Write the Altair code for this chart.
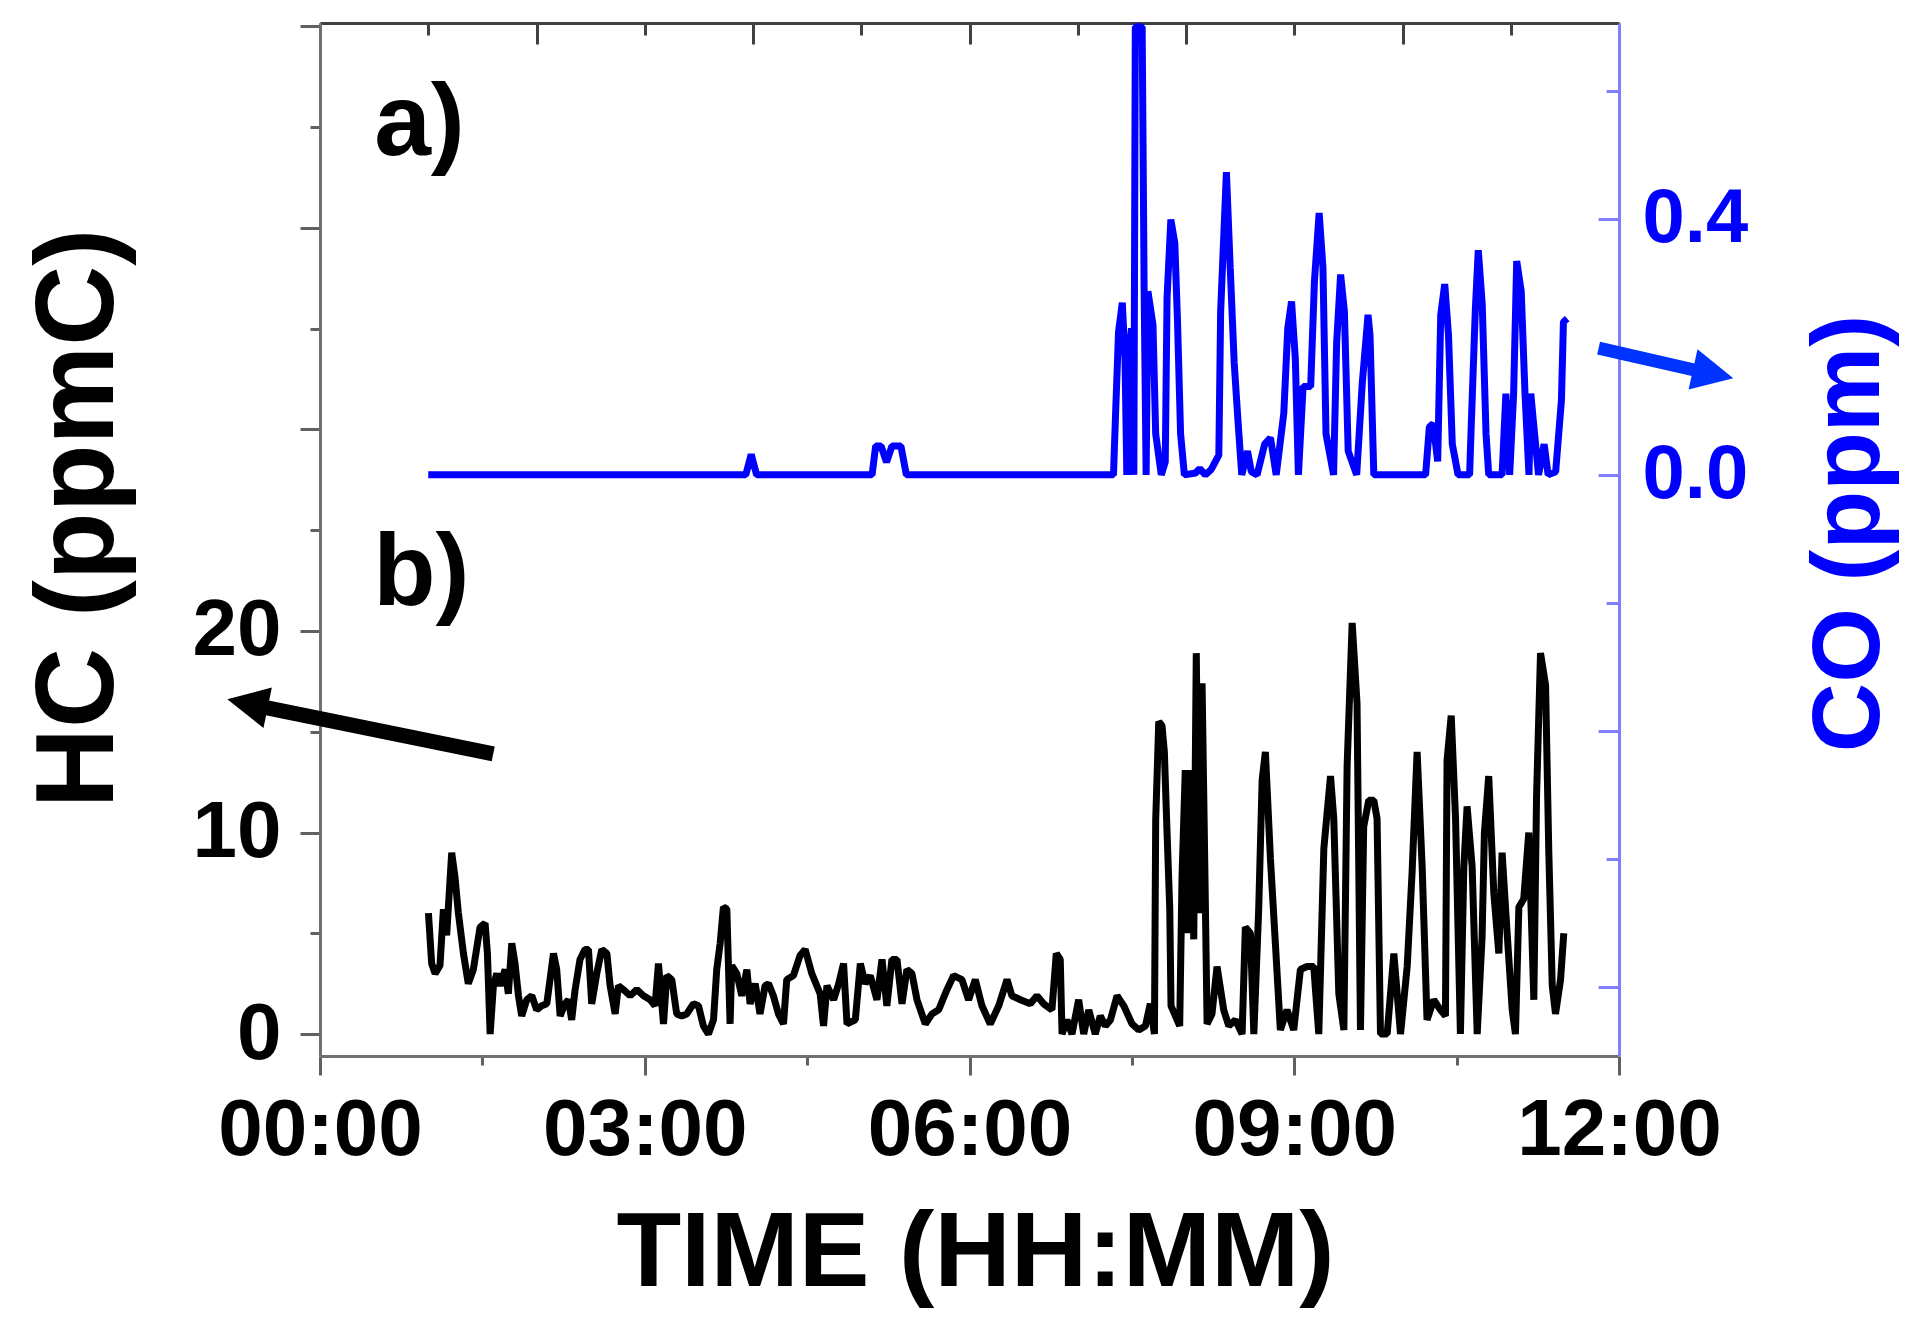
import altair as alt
import pandas as pd

# ---------------- data (minutes after 00:00) ----------------
hc_minutes = [60.1, 61.9, 63.8, 66.5, 68.4, 70.2, 73.0, 74.8, 76.7, 79.5, 82.2, 85.0, 88.7, 91.5, 92.8,
              94.3, 96.1, 98.0, 99.8, 102.6, 104.4, 106.3, 108.1, 110.0, 111.8, 114.6, 117.4, 120.1,
              122.9, 125.7, 127.5, 129.4, 131.2, 133.1, 135.8, 137.7, 139.5, 141.4, 144.1, 146.9, 148.8,
              150.6, 153.4, 156.2, 159.0, 160.8, 163.6, 165.4, 168.2, 171.9, 175.6, 179.3, 183.0, 185.7,
              187.6, 190.4, 192.2, 195.0, 197.7, 200.5, 203.3, 207.0, 209.8, 212.5, 215.3, 218.1, 219.9,
              221.8, 223.6, 225.5, 227.3, 228.2, 231.0, 233.8, 236.6, 238.4, 241.2, 243.9, 246.7, 248.6,
              251.3, 254.1, 256.9, 258.7, 262.4, 266.1, 268.9, 272.6, 277.2,
              279.1, 281.0, 284.7, 287.5, 290.2, 292.1, 296.7, 299.5, 302.2, 305.0, 308.7, 311.5, 314.2,
              317.0, 319.8, 322.6, 325.3, 328.1, 330.9, 335.5, 339.2, 342.9, 347.5, 351.2, 355.8, 359.5,
              363.2, 366.9, 371.5, 376.2, 380.8, 383.5, 388.2, 393.7, 397.4, 401.1, 405.7, 408.1, 410.3,
              411.3, 414.0, 416.8, 420.5, 423.3, 426.1, 429.7, 432.5, 435.3, 438.1, 441.8, 445.5, 450.1,
              453.8, 457.5, 460.2, 462.5, 463.2, 464.9, 466.7, 468.0, 469.5, 471.0, 471.7, 474.1, 476.5,
              477.8, 479.6, 480.9, 482.4, 484.3, 485.7, 487.2, 488.9, 490.2, 491.7, 494.4, 497.2,
              500.9, 503.7, 507.4, 511.1, 512.9, 515.7, 517.6, 520.3, 522.2, 524.0, 526.8, 529.6, 532.3,
              536.0, 539.7, 543.4, 547.1, 550.8, 553.6, 556.4, 560.1, 561.9, 564.7, 567.5, 569.3, 572.1,
              574.8, 576.7, 578.5, 581.3, 584.1, 585.9, 587.8, 591.5, 595.2, 598.9, 602.6, 605.3, 608.1,
              610.9, 613.6, 617.3, 621.0, 623.8, 624.7, 627.0, 629.4, 632.1, 634.0, 635.8, 638.6, 641.4,
              644.1, 645.4, 647.8, 650.6, 653.4, 655.2, 658.0, 660.8, 662.6, 664.5, 667.2, 670.0, 672.8,
              674.3, 676.5, 679.3, 681.1, 683.0, 684.8, 687.6, 689.4]
hc_values = [6.0, 3.5, 3.0, 3.4, 6.2, 4.9, 9.0, 7.8, 6.0, 4.0, 2.5, 3.2, 5.3, 5.5, 4.0,
             0.0, 2.4, 3.0, 2.4, 3.2, 2.0, 4.5, 3.5, 1.9, 0.9, 1.7, 1.9, 1.2,
             1.4, 1.5, 2.7, 4.0, 3.2, 0.9, 1.5, 1.7, 0.7, 2.2, 3.7, 4.2, 4.2,
             1.5, 3.0, 4.2, 4.0, 2.4, 1.0, 2.4, 2.2, 1.9, 2.2, 1.9, 1.7, 1.4,
             3.5, 0.5, 2.9, 2.7, 1.0, 0.9, 1.0, 1.5, 1.4, 0.4, 0.0, 0.7, 3.2,
             4.5, 6.3, 6.2, 0.5, 3.4, 3.0, 1.9, 3.2, 1.5, 2.5, 1.0, 2.4, 2.5,
             1.9, 1.0, 0.5, 2.7, 2.9, 3.9, 4.2, 3.0, 2.0,
             0.4, 2.4, 1.7, 2.5, 3.5, 0.5, 0.7, 3.5, 2.5, 2.9, 1.7, 3.7, 1.4,
             3.7, 3.7, 1.5, 3.2, 3.0, 1.7, 0.5, 1.0, 1.2, 2.2, 2.9, 2.7, 1.7,
             2.7, 1.4, 0.5, 1.4, 2.7, 1.9, 1.7, 1.5, 1.9, 1.5, 1.2, 4.0, 3.7,
             0.0, 0.7, 0.0, 1.7, 0.0, 1.2, 0.0, 0.9, 0.4, 0.7, 1.9, 1.4, 0.5,
             0.2, 0.4, 1.5, 0.0, 10.6, 15.5, 15.3, 14.0, 10.0, 6.2, 1.4, 0.9, 0.4,
             7.8, 13.1, 5.0, 13.1, 4.7, 18.9, 6.0, 17.4, 9.7, 0.5, 1.0, 3.35,
             1.2, 0.4, 0.7, 0.0, 5.3, 5.0, 0.0, 6.2, 12.6, 14.0, 8.7, 4.4, 0.2,
             1.2, 0.2, 3.2, 3.35, 3.35, 0.0, 9.2, 12.8, 10.7, 2.0, 0.2, 13.3, 20.4,
             16.4, 0.2, 10.3, 11.6, 11.6, 10.7, 0.0, 0.0, 4.0, 0.0, 3.35, 8.0, 14.0,
             8.3, 0.7, 1.7, 1.2, 0.9, 13.6, 15.8, 10.7, 0.0, 8.3, 11.3, 8.3, 0.0,
             4.8, 10.0, 12.8, 7.0, 4.0, 9.0, 5.0, 1.2, 0.0, 6.3, 6.7, 10.0, 1.7,
             11.8, 18.9, 17.3, 9.0, 2.4, 1.0, 2.7, 5.0]

co_minutes = [60, 236, 239, 242, 306, 308, 311, 314, 317, 322, 325,
              439.8, 440.9, 442.6, 444.7, 446.2, 447.2, 448.3, 449.8, 451.1, 451.9, 455.7, 456.8,
              457.9, 458.9, 461.7, 463.2, 466.3, 468.5, 469.5, 471.6, 473.8, 475.3, 477.0, 479.1,
              485.4, 487.6, 490.7, 493.9, 498.2, 499.2, 502.4, 504.5, 506.7, 508.8, 510.9, 514.1,
              516.2, 519.4, 523.6, 526.8, 530.0, 534.2, 536.4, 538.5, 540.6, 542.3, 544.9, 549.1,
              551.2, 553.8, 555.9, 557.6, 561.8, 563.5, 565.7, 567.8, 569.9, 574.6, 577.7, 580.9,
              582.0, 584.1, 612.8, 614.9, 617.0, 619.5, 621.2, 623.4, 625.5, 627.6, 630.8, 637.2,
              638.2, 640.4, 642.0, 644.2, 646.3, 647.8, 655.2, 657.3, 659.4, 661.6, 663.3, 665.8,
              667.9, 670.1, 671.1, 673.2, 675.4, 678.5, 680.7, 684.9, 688.1, 689.2, 691.3]
co_values = [0, 0, 0.032, 0, 0, 0.045, 0.045, 0.02, 0.045, 0.045, 0,
             0, 0.09, 0.223, 0.269, 0.181, 0, 0.181, 0.229, 0, 0.70, 0.70, 0.287,
             0, 0.287, 0.234, 0.064, 0, 0.02, 0.277, 0.399, 0.362, 0.239, 0.064, 0,
             0.003, 0.01, 0, 0.008, 0.031, 0.255, 0.473, 0.324, 0.176, 0.085, 0, 0.037,
             0.005, 0, 0.048, 0.058, 0, 0.096, 0.229, 0.271, 0.181, 0, 0.138, 0.138,
             0.303, 0.409, 0.324, 0.064, 0, 0.207, 0.313, 0.255, 0.037, 0, 0.143, 0.250,
             0.218, 0, 0, 0.075, 0.080, 0.021, 0.250, 0.298, 0.218, 0.048, 0, 0,
             0.085, 0.260, 0.351, 0.266, 0.064, 0, 0, 0.127, 0, 0.127, 0.334, 0.287,
             0.127, 0, 0.127, 0.064, 0, 0.048, 0, 0.005, 0.117, 0.239, 0.244]

x_ticks_major = [0, 180, 360, 540, 720]
x_ticks_minor = [90, 270, 450, 630]
top_ticks_major = [0, 120, 240, 360, 480, 600, 720]
top_ticks_minor = [60, 180, 300, 420, 540, 660]
hc_ticks_major = [0, 10, 20, 30, 40, 50]
hc_ticks_minor = [5, 15, 25, 35, 45]
co_ticks_major = [-0.8, -0.4, 0.0, 0.4]
co_ticks_minor = [-0.6, -0.2, 0.2, 0.6]

panel_labels = ["a)", "b)"]
panel_label_minutes = [30.0, 29.5]
panel_label_hc = [43.6, 21.3]

# arrows (data coordinates): tail -> base of head, and head centre
hc_arrow_minutes = [96.0, -29.9]
hc_arrow_values = [13.9, 16.2]
hc_head_minute = [-40.2]
hc_head_value = [16.4]
co_arrow_minutes = [708.7, 763.0]
co_arrow_values = [0.198, 0.163]
co_head_minute = [772.2]
co_head_value = [0.158]

X_DOMAIN = [0, 720]
HC_DOMAIN = [-1.09, 50.17]
CO_DOMAIN = [-0.908, 0.706]
FONT = "Liberation Sans"
W, H = 1299, 1033
BLUE = "#0000ff"
AXBLUE = "#8080ff"
GREY = "#707070"
DARK = "#404040"

hc_df = pd.DataFrame({"m": hc_minutes, "v": hc_values})
co_df = pd.DataFrame({"m": co_minutes, "v": co_values})
dummy = pd.DataFrame({"m": [0], "v": [0]})
lab_df = pd.DataFrame({"m": panel_label_minutes, "v": panel_label_hc, "t": panel_labels})
hca_df = pd.DataFrame({"m": [hc_arrow_minutes[0]], "m2": [hc_arrow_minutes[1]],
                       "v": [hc_arrow_values[0]], "v2": [hc_arrow_values[1]]})
hch_df = pd.DataFrame({"m": hc_head_minute, "v": hc_head_value})
coa_df = pd.DataFrame({"m": [co_arrow_minutes[0]], "m2": [co_arrow_minutes[1]],
                       "v": [co_arrow_values[0]], "v2": [co_arrow_values[1]]})
coh_df = pd.DataFrame({"m": co_head_minute, "v": co_head_value})


def xs():
    return alt.Scale(domain=X_DOMAIN, nice=False, zero=False)


def hs():
    return alt.Scale(domain=HC_DOMAIN, nice=False, zero=False)


def cs():
    return alt.Scale(domain=CO_DOMAIN, nice=False, zero=False)


lab_common = dict(labelFont=FONT, labelFontWeight="bold", grid=False, labelOverlap=False, labelLimit=1000)

bottom_major = alt.Axis(orient="bottom", values=x_ticks_major, tickSize=19, tickWidth=3, tickColor="#606060",
                        domainColor=GREY, domainWidth=3,
                        labelExpr="(datum.value < 600 ? '0' : '') + floor(datum.value/60) + ':00'",
                        labelFontSize=80, labelColor="black", labelPadding=16, labelFlush=False,
                        title="TIME (HH:MM)", titleFont=FONT, titleFontSize=106, titleFontWeight="bold",
                        titleColor="black", titleX=655, titleY=197, titleAlign="center",
                        titleBaseline="middle", titleAngle=0, titleLimit=2000, **lab_common)
left_major = alt.Axis(orient="left", values=hc_ticks_major, tickSize=20, tickWidth=3, tickColor="#606060",
                      domainColor=GREY, domainWidth=3,
                      labelExpr="datum.value <= 20 ? datum.label : ''",
                      labelFontSize=80, labelColor="black", labelPadding=19,
                      title="HC (ppmC)", titleFont=FONT, titleFontSize=111, titleFontWeight="bold",
                      titleColor="black", titleX=-241, titleY=495, titleAngle=270, titleAlign="center",
                      titleBaseline="middle", titleLimit=2000, **lab_common)
right_major = alt.Axis(orient="right", values=co_ticks_major, tickSize={"expr": "-21"}, tickWidth=3,
                       tickColor=AXBLUE, domainColor=AXBLUE, domainWidth=3,
                       labelExpr="abs(datum.value) < 0.001 ? '0.0' : (abs(datum.value - 0.4) < 0.001 ? '0.4' : '')",
                       labelFontSize=76, labelColor=BLUE, labelPadding=44,
                       title="CO (ppm)", titleFont=FONT, titleFontSize=96, titleFontWeight="bold",
                       titleColor=BLUE, titleX=230, titleY=510, titleAngle=270, titleAlign="center",
                       titleBaseline="middle", titleLimit=2000, **lab_common)
bottom_minor = alt.Axis(orient="bottom", values=x_ticks_minor, tickSize=9, tickWidth=3, tickColor="#606060",
                        domain=False, labels=False, title=None, grid=False)
left_minor = alt.Axis(orient="left", values=hc_ticks_minor, tickSize=10, tickWidth=3, tickColor="#606060",
                      domain=False, labels=False, title=None, grid=False)
top_major = alt.Axis(orient="top", values=top_ticks_major, tickSize={"expr": "-21"}, tickWidth=3,
                     tickColor=DARK, domainColor=DARK, domainWidth=3, labels=False, title=None, grid=False)
top_minor = alt.Axis(orient="top", values=top_ticks_minor, tickSize={"expr": "-12"}, tickWidth=3,
                     tickColor=DARK, domain=False, labels=False, title=None, grid=False)
right_minor = alt.Axis(orient="right", values=co_ticks_minor, tickSize={"expr": "-13"}, tickWidth=3,
                       tickColor=AXBLUE, domain=False, labels=False, title=None, grid=False)

hc_line = alt.Chart(hc_df).mark_line(color="black", strokeWidth=7, strokeJoin="bevel").encode(
    x=alt.X("m:Q", scale=xs(), axis=bottom_major),
    y=alt.Y("v:Q", scale=hs(), axis=left_major),
    order="m:Q")
co_line = alt.Chart(co_df).mark_line(color=BLUE, strokeWidth=7, strokeJoin="bevel").encode(
    x=alt.X("m:Q", scale=xs(), axis=None),
    y=alt.Y("v:Q", scale=cs(), axis=right_major),
    order="m:Q")
minor_a = alt.Chart(dummy).mark_point(opacity=0).encode(
    x=alt.X("m:Q", scale=xs(), axis=bottom_minor),
    y=alt.Y("v:Q", scale=hs(), axis=left_minor))
minor_b = alt.Chart(dummy).mark_point(opacity=0).encode(
    x=alt.X("m:Q", scale=xs(), axis=top_major),
    y=alt.Y("v:Q", scale=cs(), axis=right_minor))
minor_c = alt.Chart(dummy).mark_point(opacity=0).encode(
    x=alt.X("m:Q", scale=xs(), axis=top_minor))

labels = alt.Chart(lab_df).mark_text(align="left", baseline="alphabetic", font=FONT, fontWeight="bold",
                                     fontSize=102, color="black").encode(
    x=alt.X("m:Q", scale=xs(), axis=None),
    y=alt.Y("v:Q", scale=hs(), axis=None),
    text="t:N")

head_shape = "M0,-1L1,1L-1,1Z"
hc_shaft = alt.Chart(hca_df).mark_rule(color="black", strokeWidth=15, clip=False).encode(
    x=alt.X("m:Q", scale=xs(), axis=None), x2="m2:Q",
    y=alt.Y("v:Q", scale=hs(), axis=None), y2="v2:Q")
hc_head = alt.Chart(hch_df).mark_point(shape=head_shape, filled=True, color="black", opacity=1,
                                       size=1700, angle=281.7, clip=False, strokeWidth=0).encode(
    x=alt.X("m:Q", scale=xs(), axis=None),
    y=alt.Y("v:Q", scale=hs(), axis=None))
co_shaft = alt.Chart(coa_df).mark_rule(color="#0033ff", strokeWidth=13, clip=False).encode(
    x=alt.X("m:Q", scale=xs(), axis=None), x2="m2:Q",
    y=alt.Y("v:Q", scale=cs(), axis=None), y2="v2:Q")
co_head = alt.Chart(coh_df).mark_point(shape=head_shape, filled=True, color="#0033ff", opacity=1,
                                       size=1700, angle=102.5, clip=False, strokeWidth=0).encode(
    x=alt.X("m:Q", scale=xs(), axis=None),
    y=alt.Y("v:Q", scale=cs(), axis=None))

chart = alt.layer(
    minor_a, minor_b, minor_c, hc_line, co_line, labels, hc_shaft, hc_head, co_shaft, co_head
).resolve_scale(x="independent", y="independent").properties(
    width=W, height=H,
    autosize=alt.AutoSizeParams(type="none"),
    padding={"left": 312, "top": 15, "right": 291, "bottom": 253},
    background="white",
).configure_view(stroke=None).configure_axis(grid=False)

chart.save("out.html", embed_options={"renderer": "svg", "actions": False})
